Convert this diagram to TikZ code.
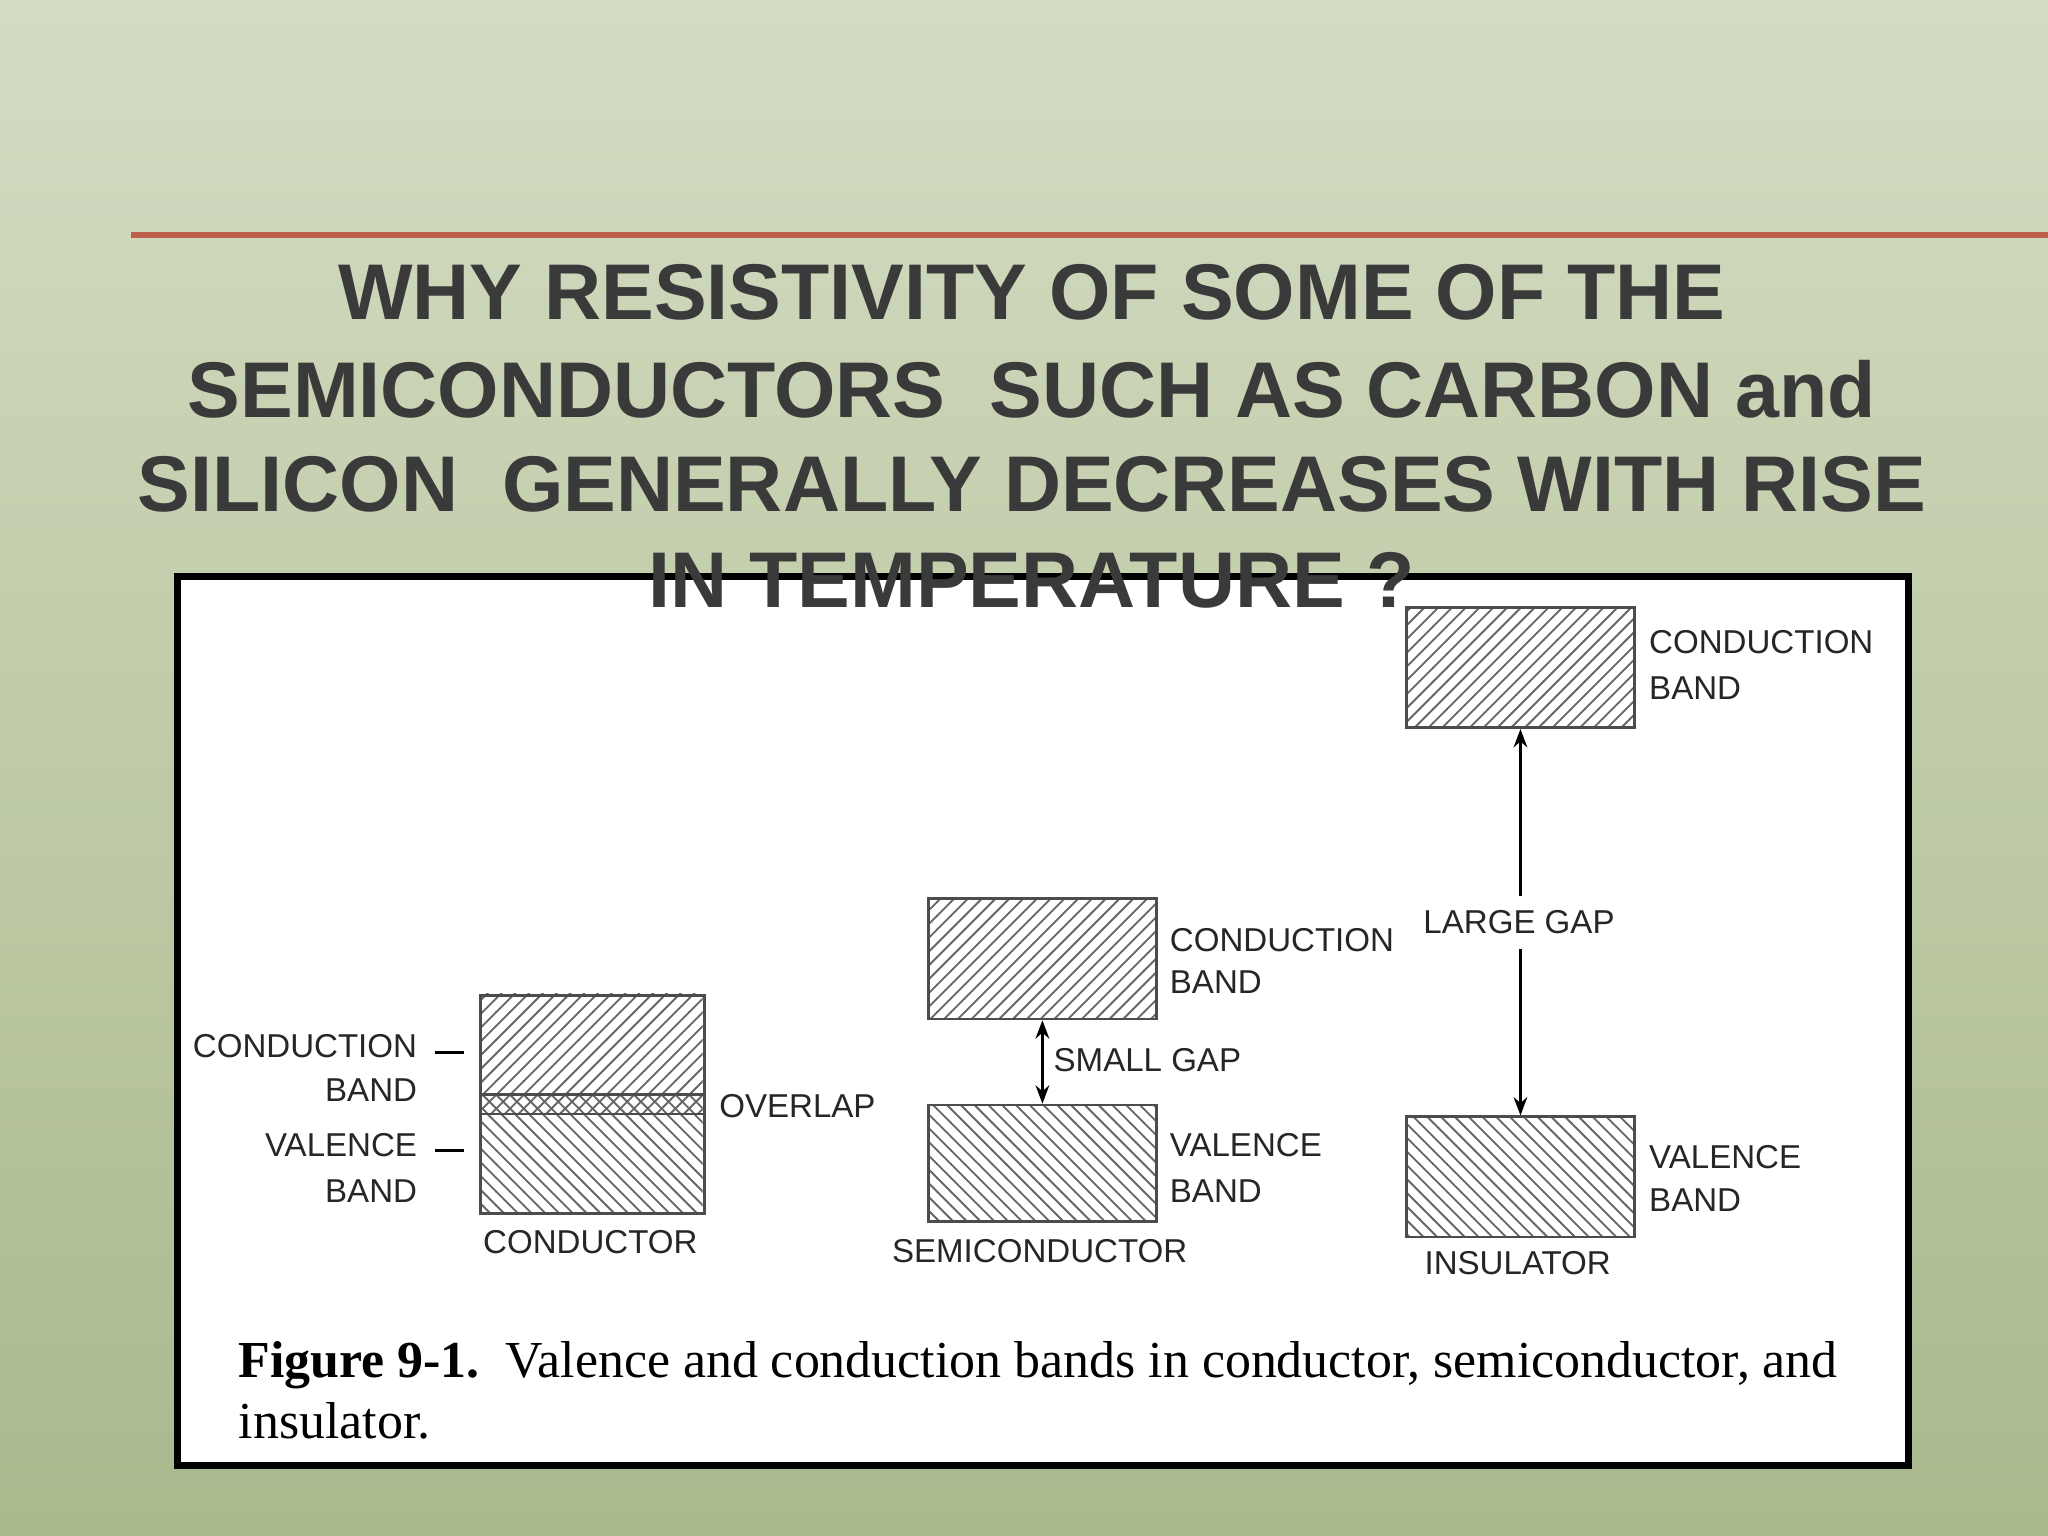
\documentclass[tikz,border=0pt]{standalone}
\usepackage{fontspec}
\setmainfont{Liberation Serif}
\setsansfont{Liberation Sans}
\usetikzlibrary{patterns,arrows.meta}
\definecolor{bgtop}{HTML}{D4DCC2}
\definecolor{bgbot}{HTML}{A9B98C}
\definecolor{redline}{HTML}{C0604A}
\definecolor{titlec}{HTML}{3A3A3A}
\tikzset{
  band/.style={draw=black!70, line width=0.6pt},
  lbl/.style={font=\sffamily\fontsize{7.2}{9}\selectfont, inner sep=0pt, text=black!85},
  ttl/.style={font=\sffamily\bfseries\fontsize{17.2}{19}\selectfont, text=titlec, inner sep=0pt},
  arr/.style={-{Stealth[length=4pt,width=3pt]}, line width=0.5pt}
}
\begin{document}
\begin{tikzpicture}[x=0.01cm,y=-0.01cm]
\useasboundingbox (0,0) rectangle (1568,1176);
\shade[top color=bgtop, bottom color=bgbot] (0,0) rectangle (1568,1176);
\draw[redline, line width=1.2pt] (100,180) -- (1568,180);
\node[draw=black, line width=1.5pt, fill=white, minimum width=13.25cm, minimum height=6.80cm, anchor=north west, inner sep=0pt] (frame) at (133,439) {};
% conductor
\fill[white] (367,761) rectangle (538,928);
\path[pattern=north east lines, pattern color=black!60] (367,761) rectangle (538,838);
\path[pattern=crosshatch, pattern color=black!60] (367,838) rectangle (538,853);
\path[pattern=north west lines, pattern color=black!60] (367,853) rectangle (538,928);
\node[band, minimum width=1.71cm, minimum height=1.67cm, anchor=north west, inner sep=0pt] (cond) at (367,761) {};
\draw[band] (367,838) -- (538,838) (367,853) -- (538,853);
% semiconductor
\node[band, pattern=north east lines, pattern color=black!60, minimum width=1.74cm, minimum height=0.92cm, anchor=north west, inner sep=0pt] (scb) at (710,687) {};
\node[band, pattern=north west lines, pattern color=black!60, minimum width=1.74cm, minimum height=0.89cm, anchor=north west, inner sep=0pt] (svb) at (710,845) {};
\draw[arr, {Stealth[length=4pt,width=3pt]}-{Stealth[length=4pt,width=3pt]}] (scb.south) -- (svb.north);
% insulator
\node[band, pattern=north east lines, pattern color=black!60, minimum width=1.74cm, minimum height=0.92cm, anchor=north west, inner sep=0pt] (icb) at (1076,464) {};
\node[band, pattern=north west lines, pattern color=black!60, minimum width=1.74cm, minimum height=0.92cm, anchor=north west, inner sep=0pt] (ivb) at (1076,854) {};
\node[lbl, fill=white, inner sep=3pt] (lg) at (1163,706) {LARGE GAP};
\draw[arr] (lg.north -| icb.south) -- (icb.south);
\draw[arr] (lg.south -| ivb.north) -- (ivb.north);
% labels conductor
\node[lbl, anchor=east] (c1) at (320,801) {CONDUCTION};
\node[lbl, anchor=east] (c2) at (320,835) {BAND};
\node[lbl, anchor=east] (c3) at (320,877) {VALENCE};
\node[lbl, anchor=east] (c4) at (320,912) {BAND};
\draw[line width=0.6pt] (333,806) -- (355,806) (333,881) -- (355,881);
\node[lbl, anchor=west] (ov) at (550,847) {OVERLAP};
\node[lbl] (cn) at (452,951) {CONDUCTOR};
% semiconductor labels
\node[lbl, anchor=west] at (895,720) {CONDUCTION};
\node[lbl, anchor=west] at (895,752) {BAND};
\node[lbl, anchor=west] at (806,812) {SMALL GAP};
\node[lbl, anchor=west] at (895,877) {VALENCE};
\node[lbl, anchor=west] at (895,912) {BAND};
\node[lbl] at (796,958) {SEMICONDUCTOR};
% insulator labels
\node[lbl, anchor=west] at (1262,492) {CONDUCTION};
\node[lbl, anchor=west] at (1262,527) {BAND};
\node[lbl, anchor=west] at (1262,886) {VALENCE};
\node[lbl, anchor=west] at (1262,919) {BAND};
\node[lbl] at (1162,967) {INSULATOR};
% caption
\node[anchor=west, inner sep=0pt, font=\fontsize{11.3}{13}\selectfont] at (182,1045) {\textbf{Figure 9-1.}\ \ Valence and conduction bands in conductor, semiconductor, and};
\node[anchor=west, inner sep=0pt, font=\fontsize{11.3}{13}\selectfont] at (182,1088) {insulator.};
% title
\node[ttl] at (790,224) {WHY RESISTIVITY OF SOME OF THE};
\node[ttl] at (790,298) {SEMICONDUCTORS\ \ SUCH AS CARBON and};
\node[ttl] at (790,371) {SILICON\ \ GENERALLY DECREASES WITH RISE};
\node[ttl] at (790,444) {IN TEMPERATURE ?};
\end{tikzpicture}
\end{document}
